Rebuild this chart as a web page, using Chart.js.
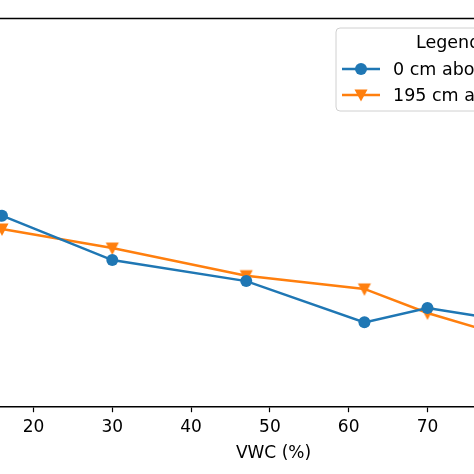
<!DOCTYPE html>
<html>
<head>
<meta charset="utf-8">
<script src="https://cdn.jsdelivr.net/npm/chart.js@4/dist/chart.umd.min.js"></script>
<style>
  html, body { margin: 0; padding: 0; background: #fff; overflow: hidden; }
  #wrap { width: 474px; height: 474px; overflow: hidden; }
</style>
</head>
<body>
<div id="wrap"><canvas id="myChart" width="547" height="474"></canvas></div>
<script>
// data (y has no labels in the crop, so it is on a 0-100 scale)
const vwc = [16, 30, 47, 62, 70, 80];
const ground0 = [49.2, 37.8, 32.4, 21.8, 25.5, 22.3];
const ground195 = [45.8, 40.9, 33.8, 30.4, 24.2, 18.2];
const xTicks = [20, 30, 40, 50, 60, 70, 80];
const seriesNames = ['0 cm above ground', '195 cm above ground'];

const FONT = 'DejaVu Sans';
const FSIZE = 17;
const blue = '#1f77b4';
const orange = '#ff7f0e';

function toPoints(xs, ys) {
  return xs.map((x, i) => ({ x: x, y: ys[i] }));
}

// top spine + legend box drawn inside the plot, like matplotlib does
const frameAndLegend = {
  id: 'frameAndLegend',
  afterDraw(chart) {
    const ctx = chart.ctx;
    const area = chart.chartArea;
    ctx.save();
    ctx.strokeStyle = '#000';
    ctx.lineWidth = 1.5;
    ctx.beginPath();
    ctx.moveTo(area.left, area.top + 0.5);
    ctx.lineTo(area.right, area.top + 0.5);
    ctx.stroke();

    // legend box
    const bx = 336, by = 28, bw = 212, bh = 83, r = 4;
    ctx.beginPath();
    ctx.roundRect(bx, by, bw, bh, r);
    ctx.fillStyle = 'rgba(255,255,255,0.8)';
    ctx.fill();
    ctx.strokeStyle = '#d0d0d0';
    ctx.lineWidth = 1;
    ctx.stroke();

    ctx.fillStyle = '#000';
    ctx.font = '17.5px "' + FONT + '"';
    ctx.textBaseline = 'middle';
    ctx.textAlign = 'left';
    ctx.fillText('Legend', 416, 43);

    const rows = [69, 95];
    chart.data.datasets.forEach((ds, i) => {
      const y = rows[i];
      ctx.strokeStyle = ds.borderColor;
      ctx.lineWidth = 2.5;
      ctx.beginPath();
      ctx.moveTo(342, y);
      ctx.lineTo(380, y);
      ctx.stroke();
      ctx.fillStyle = ds.borderColor;
      ctx.beginPath();
      if (ds.pointStyle === 'circle') {
        ctx.arc(361, y, 6, 0, Math.PI * 2);
      } else {
        ctx.moveTo(361 - 6.5, y - 5.5);
        ctx.lineTo(361 + 6.5, y - 5.5);
        ctx.lineTo(361, y + 6.5);
        ctx.closePath();
      }
      ctx.fill();
      ctx.fillStyle = '#000';
      ctx.fillText(ds.label, 393, y + 1);
    });
    ctx.restore();
  }
};

// downward triangle marker for the second series
const tri = document.createElement('canvas');
tri.width = 16; tri.height = 16;
(function () {
  const c = tri.getContext('2d');
  c.fillStyle = orange;
  c.beginPath();
  c.moveTo(1.5, 2.5);
  c.lineTo(14.5, 2.5);
  c.lineTo(8, 15);
  c.closePath();
  c.fill();
})();

var canvas = document.getElementById('myChart');
var ctx = canvas.getContext('2d');

var myChart = new Chart(ctx, {
  type: 'line',
  data: {
    datasets: [{
      label: seriesNames[0],
      data: toPoints(vwc, ground0),
      borderColor: blue,
      backgroundColor: blue,
      borderWidth: 2.5,
      pointStyle: 'circle',
      pointRadius: 6,
      pointBorderWidth: 0,
      pointHoverRadius: 6,
      tension: 0
    }, {
      label: seriesNames[1],
      data: toPoints(vwc, ground195),
      borderColor: orange,
      backgroundColor: orange,
      borderWidth: 2.5,
      pointStyle: tri,
      pointRadius: 7,
      tension: 0
    }]
  },
  options: {
    responsive: false,
    animation: false,
    layout: { autoPadding: false, padding: { top: 18, left: 0, right: 0, bottom: 6 } },
    plugins: {
      legend: { display: false },
      tooltip: { enabled: false }
    },
    scales: {
      x: {
        type: 'linear',
        min: 15.75,
        max: 85.17,
        afterBuildTicks: (scale) => {
          scale.ticks = xTicks.map(v => ({ value: v }));
        },
        ticks: {
          color: '#000',
          padding: 5,
          maxRotation: 0,
          font: { family: FONT, size: FSIZE }
        },
        grid: {
          display: true,
          drawOnChartArea: false,
          drawTicks: true,
          tickLength: 5,
          tickWidth: 1.2,
          tickColor: '#000'
        },
        border: { display: true, color: '#000', width: 1.5 },
        title: {
          display: true,
          text: 'VWC (%)',
          color: '#000',
          padding: { top: 1, bottom: 4 },
          font: { family: FONT, size: FSIZE }
        }
      },
      y: {
        display: false,
        min: 0,
        max: 100
      }
    }
  },
  plugins: [frameAndLegend]
});
</script>
</body>
</html>
